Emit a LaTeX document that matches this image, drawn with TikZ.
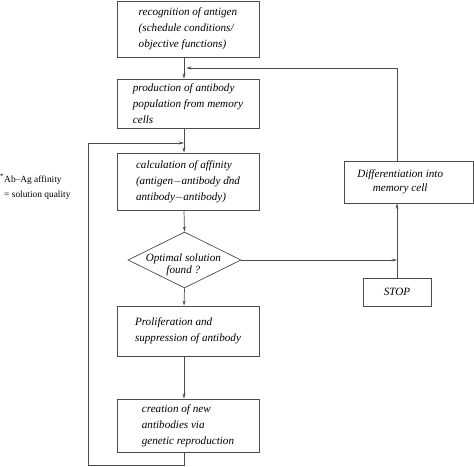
\documentclass[tikz,border=0pt]{standalone}
\usepackage{fontspec}
\setmainfont{Liberation Serif}
\usetikzlibrary{arrows.meta,shapes.geometric}

\begin{document}
\begin{tikzpicture}[
  stage/.style={draw=black!70,line width=0.6pt,rectangle,minimum width=4.26cm,
    align=left,inner sep=0pt,font=\fontsize{9.5}{13.6}\selectfont\itshape},
  test/.style={draw=black!70,line width=0.6pt,diamond,inner sep=0pt,
    minimum width=3.39cm,minimum height=1.68cm},
  flow/.style={draw=black!70,line width=0.6pt,-{Stealth[length=4.5pt,width=2.6pt]}}
]
\useasboundingbox (0,0) rectangle (14.22,-14.01);
\coordinate (col) at (5.52,0);

\node[stage,minimum height=1.68cm] (rec) at (5.64,-0.87)
  {recognition of antigen\\(schedule conditions/\\objective functions)};
\node[stage,minimum height=1.47cm] (prod) at (5.64,-3.105)
  {production of antibody\\population from memory\\cells};
\node[stage,minimum height=1.71cm] (calc) at (5.64,-5.445)
  {calculation of affinity\\(antigen$-$antibody a\makebox[0pt]{\raisebox{-1.5pt}{\textsuperscript{*}}}nd\\antibody$-$antibody)};
\node[test] (dec) at (5.535,-7.8) {};
\node[font=\fontsize{9.5}{10}\selectfont\itshape,align=center,inner sep=0pt] (decq) at (5.5,-7.95)
  {Optimal solution\\found ?};
\node[stage,minimum height=1.5cm] (prol) at (5.64,-9.93)
  {Proliferation and\\suppression of antibody};
\node[stage,minimum height=1.59cm] (crea) at (5.64,-12.765)
  {creation of new\\antibodies via\\genetic reproduction};

\node[stage,align=center,minimum width=3.87cm,minimum height=1.26cm] (diff) at (12.255,-5.46)
  {\hspace*{-0.5cm}Differentiation into\\[-2pt]\hspace*{-0.5cm}memory cell};
\node[stage,align=center,minimum width=2.04cm,minimum height=0.84cm] (stop) at (11.91,-8.76) {STOP};

\node[font=\fontsize{8}{12.75}\selectfont,align=left,inner sep=0pt,anchor=west] (note) at (0.12,-5.6)
  {\llap{\textsuperscript{*}}Ab–Ag affinity\\= solution quality};

% main column
\draw[flow] (rec.south -| col) -- (prod.north -| col);
\draw[flow] (prod.south -| col) -- (calc.north -| col);
\draw[flow] (calc.south -| col) -- (dec.north);
\draw[flow] (dec.south) -- (prol.north -| col);
\draw[flow] (prol.south -| col) -- (crea.north -| col);

% exit and memory
\draw[flow] (dec.east) -- (dec.east -| stop.north);
\draw[flow] (stop.north) -- (stop.north |- diff.south);
\coordinate (fb) at (5.52,-2.04);
\draw[flow,shorten >=2pt] (stop.north |- diff.north) |- (fb);

% loop back
\coordinate (lb) at (2.64,-13.95);
\coordinate (lt) at (2.64,-4.29);
\draw[flow] (crea.south -| col) |- (lb) -- (lt) -- (lt -| col);
\end{tikzpicture}
\end{document}
